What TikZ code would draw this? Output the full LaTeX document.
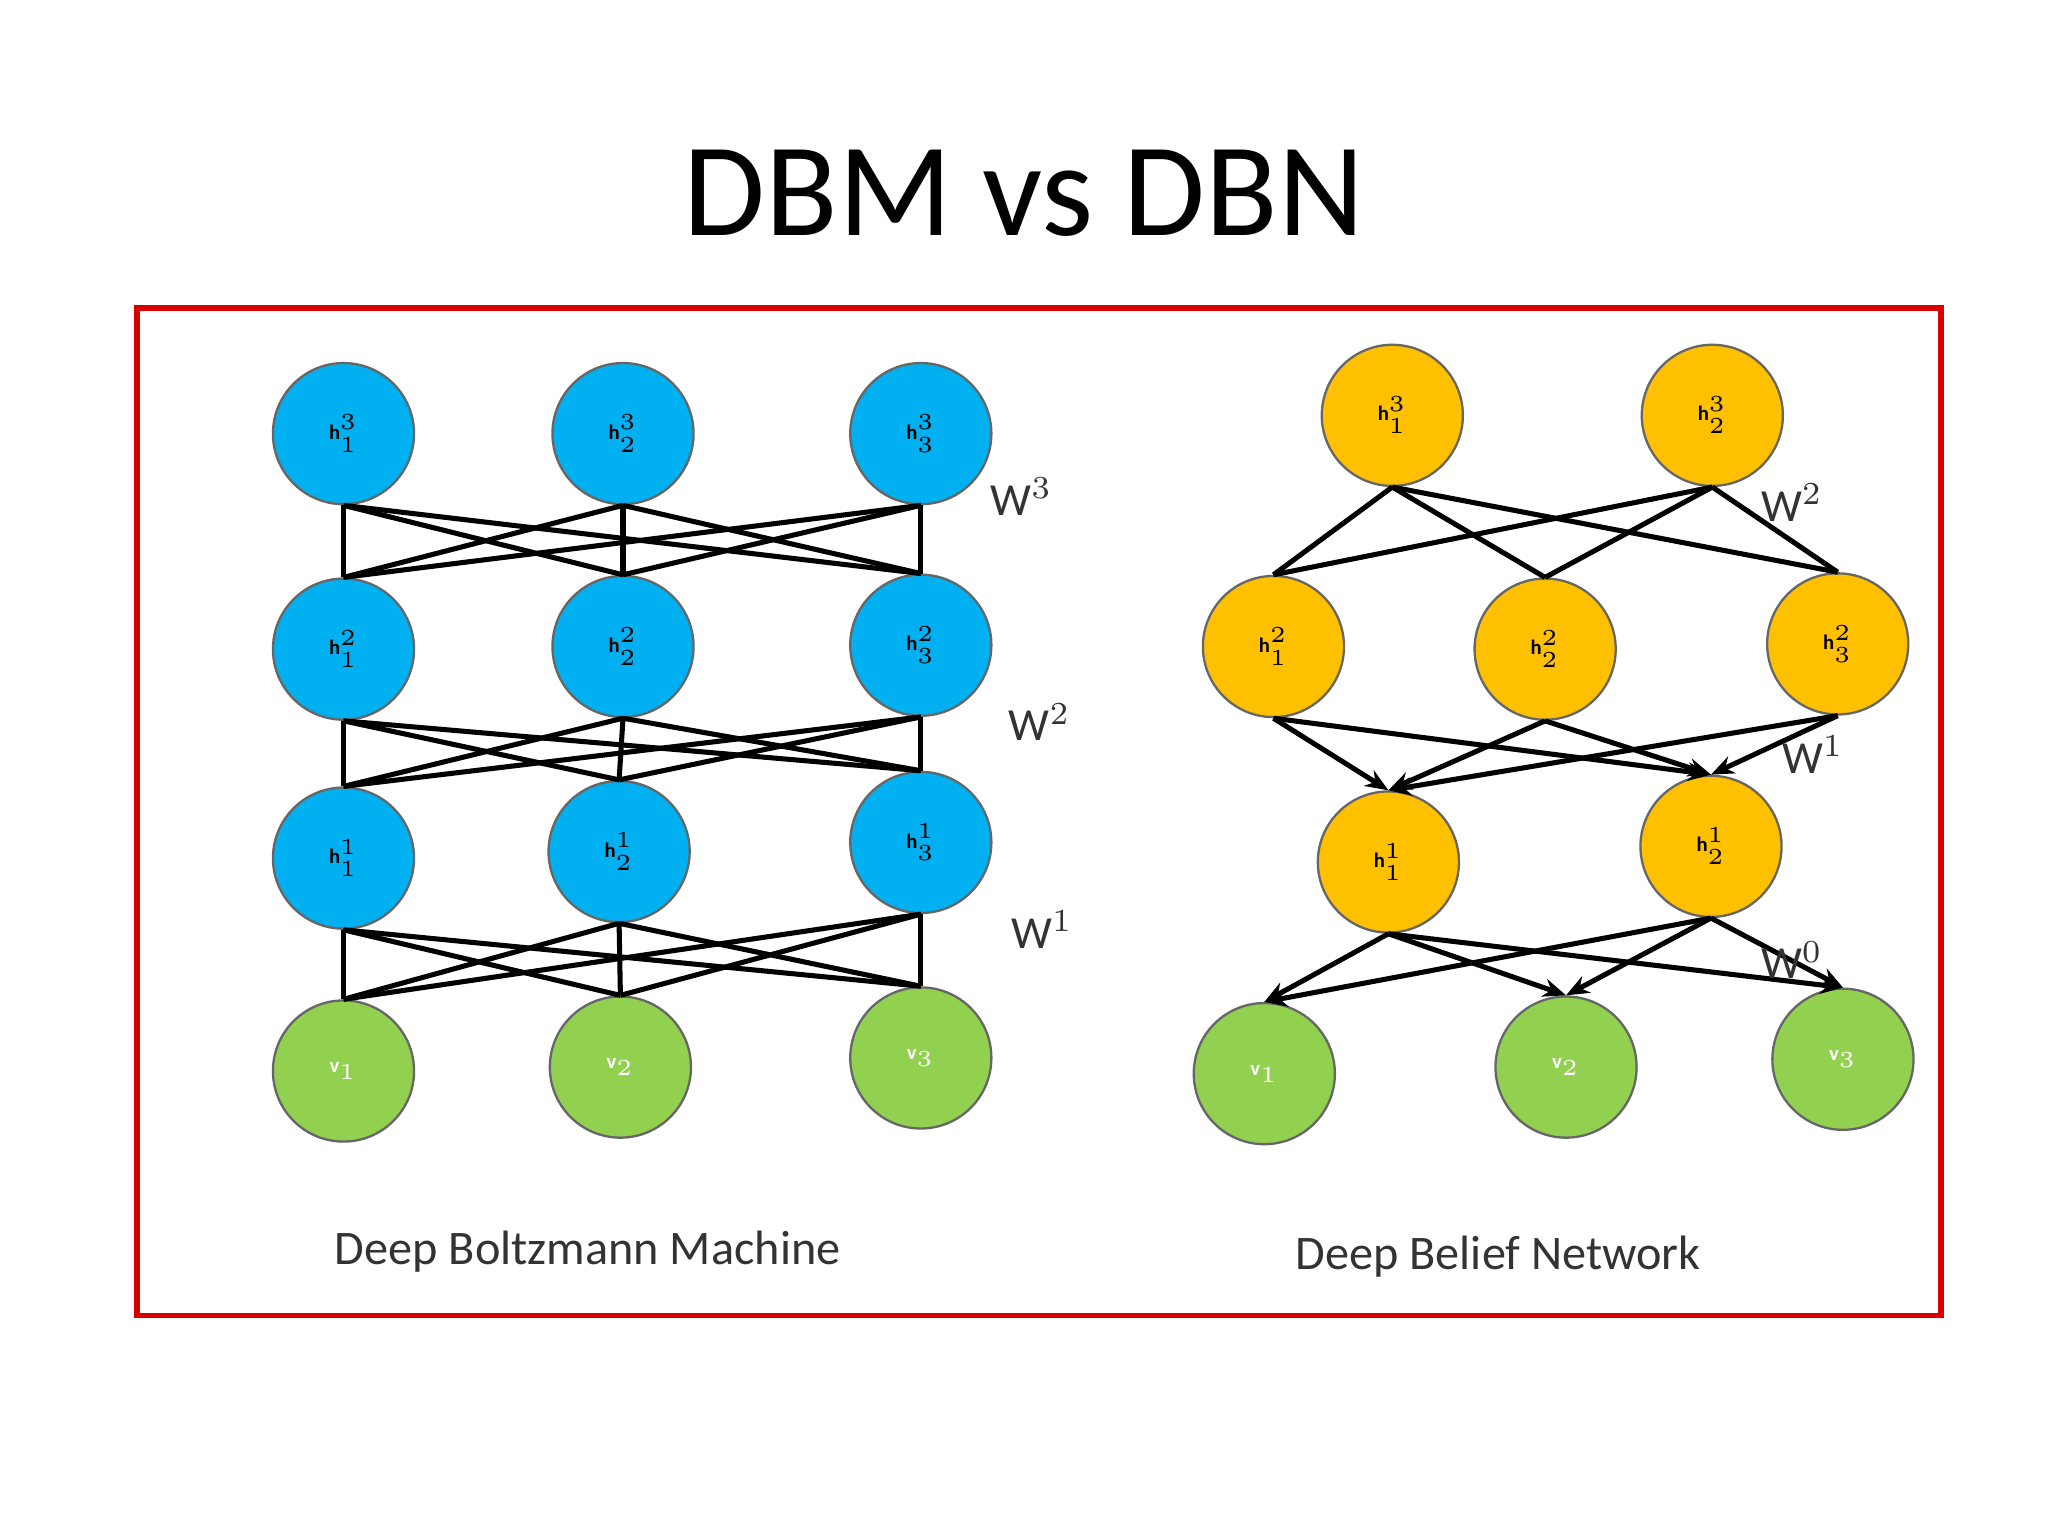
\documentclass[tikz,border=0pt]{standalone}
\usepackage{fontspec}
\setmainfont{Carlito}
\usetikzlibrary{arrows.meta}
\definecolor{dbmblue}{RGB}{0,176,240}
\definecolor{dbnorange}{RGB}{255,192,0}
\definecolor{vgreen}{RGB}{146,208,80}
\begin{document}
\begin{tikzpicture}[x=0.01cm,y=-0.01cm,
  unit/.style={circle,draw=black!60,line width=0.5pt,minimum size=1.08cm,inner sep=0pt,font=\fontsize{4.5}{5}\selectfont\bfseries},
  hb/.style={unit,fill=dbmblue},
  ho/.style={unit,fill=dbnorange},
  vg/.style={unit,fill=vgreen,text=white},
  wt/.style={font=\fontsize{10}{12}\selectfont,text=black!80},
  link/.style={line width=1.1pt},
  arr/.style={link,-{Stealth[length=5pt,width=4pt]}}]
\useasboundingbox (0,0) rectangle (1568,1176);
\node[font=\fontsize{29}{34}\selectfont] (title) at (784,148) {DBM vs DBN};
\draw[red!85!black,line width=1.2pt] (105,236) rectangle (1486,1007);
% DBM
\node[hb] (a31) at (263,332) {h$_1^3$};
\node[hb] (a32) at (477,332) {h$_2^3$};
\node[hb] (a33) at (705,332) {h$_3^3$};
\node[hb] (a21) at (263,497) {h$_1^2$};
\node[hb] (a22) at (477,495) {h$_2^2$};
\node[hb] (a23) at (705,494) {h$_3^2$};
\node[hb] (a11) at (263,657) {h$_1^1$};
\node[hb] (a12) at (474,652) {h$_2^1$};
\node[hb] (a13) at (705,645) {h$_3^1$};
\node[vg] (av1) at (263,820) {v$_1$};
\node[vg] (av2) at (475,817) {v$_2$};
\node[vg] (av3) at (705,810) {v$_3$};
\foreach \u/\l in {3/2,2/1} {
  \foreach \i in {1,2,3} { \foreach \j in {1,2,3} {
    \draw[link] (a\u\i.south) -- (a\l\j.north); } } }
\foreach \i in {1,2,3} { \foreach \j in {1,2,3} {
  \draw[link] (a1\i.south) -- (av\j.north); } }
\node[wt] (aw3) at (782,380) {W$^3$};
\node[wt] (aw2) at (796,553) {W$^2$};
\node[wt] (aw1) at (798,712) {W$^1$};
\node[font=\fontsize{10.5}{12}\selectfont,text=black!80] (cap1) at (450,958) {Deep Boltzmann Machine};
% DBN
\node[ho] (b31) at (1066,318) {h$_1^3$};
\node[ho] (b32) at (1311,318) {h$_2^3$};
\node[ho] (b21) at (975,495) {h$_1^2$};
\node[ho] (b22) at (1183,497) {h$_2^2$};
\node[ho] (b23) at (1407,493) {h$_3^2$};
\node[ho] (b11) at (1063,660) {h$_1^1$};
\node[ho] (b12) at (1310,648) {h$_2^1$};
\node[vg] (bv1) at (968,822) {v$_1$};
\node[vg] (bv2) at (1199,817) {v$_2$};
\node[vg] (bv3) at (1411,811) {v$_3$};
\foreach \i in {1,2} { \foreach \j in {1,2,3} {
  \draw[link] (b3\i.south) -- (b2\j.north); } }
\foreach \i in {1,2,3} { \foreach \j in {1,2} {
  \draw[arr] (b2\i.south) -- (b1\j.north); } }
\foreach \i in {1,2} { \foreach \j in {1,2,3} {
  \draw[arr] (b1\i.south) -- (bv\j.north); } }
\node[wt] (bw2) at (1372,385) {W$^2$};
\node[wt] (bw1) at (1388,578) {W$^1$};
\node[wt] (bw0) at (1372,735) {W$^0$};
\node[font=\fontsize{10.5}{12}\selectfont,text=black!80] (cap2) at (1147,962) {Deep Belief Network};
\end{tikzpicture}
\end{document}
